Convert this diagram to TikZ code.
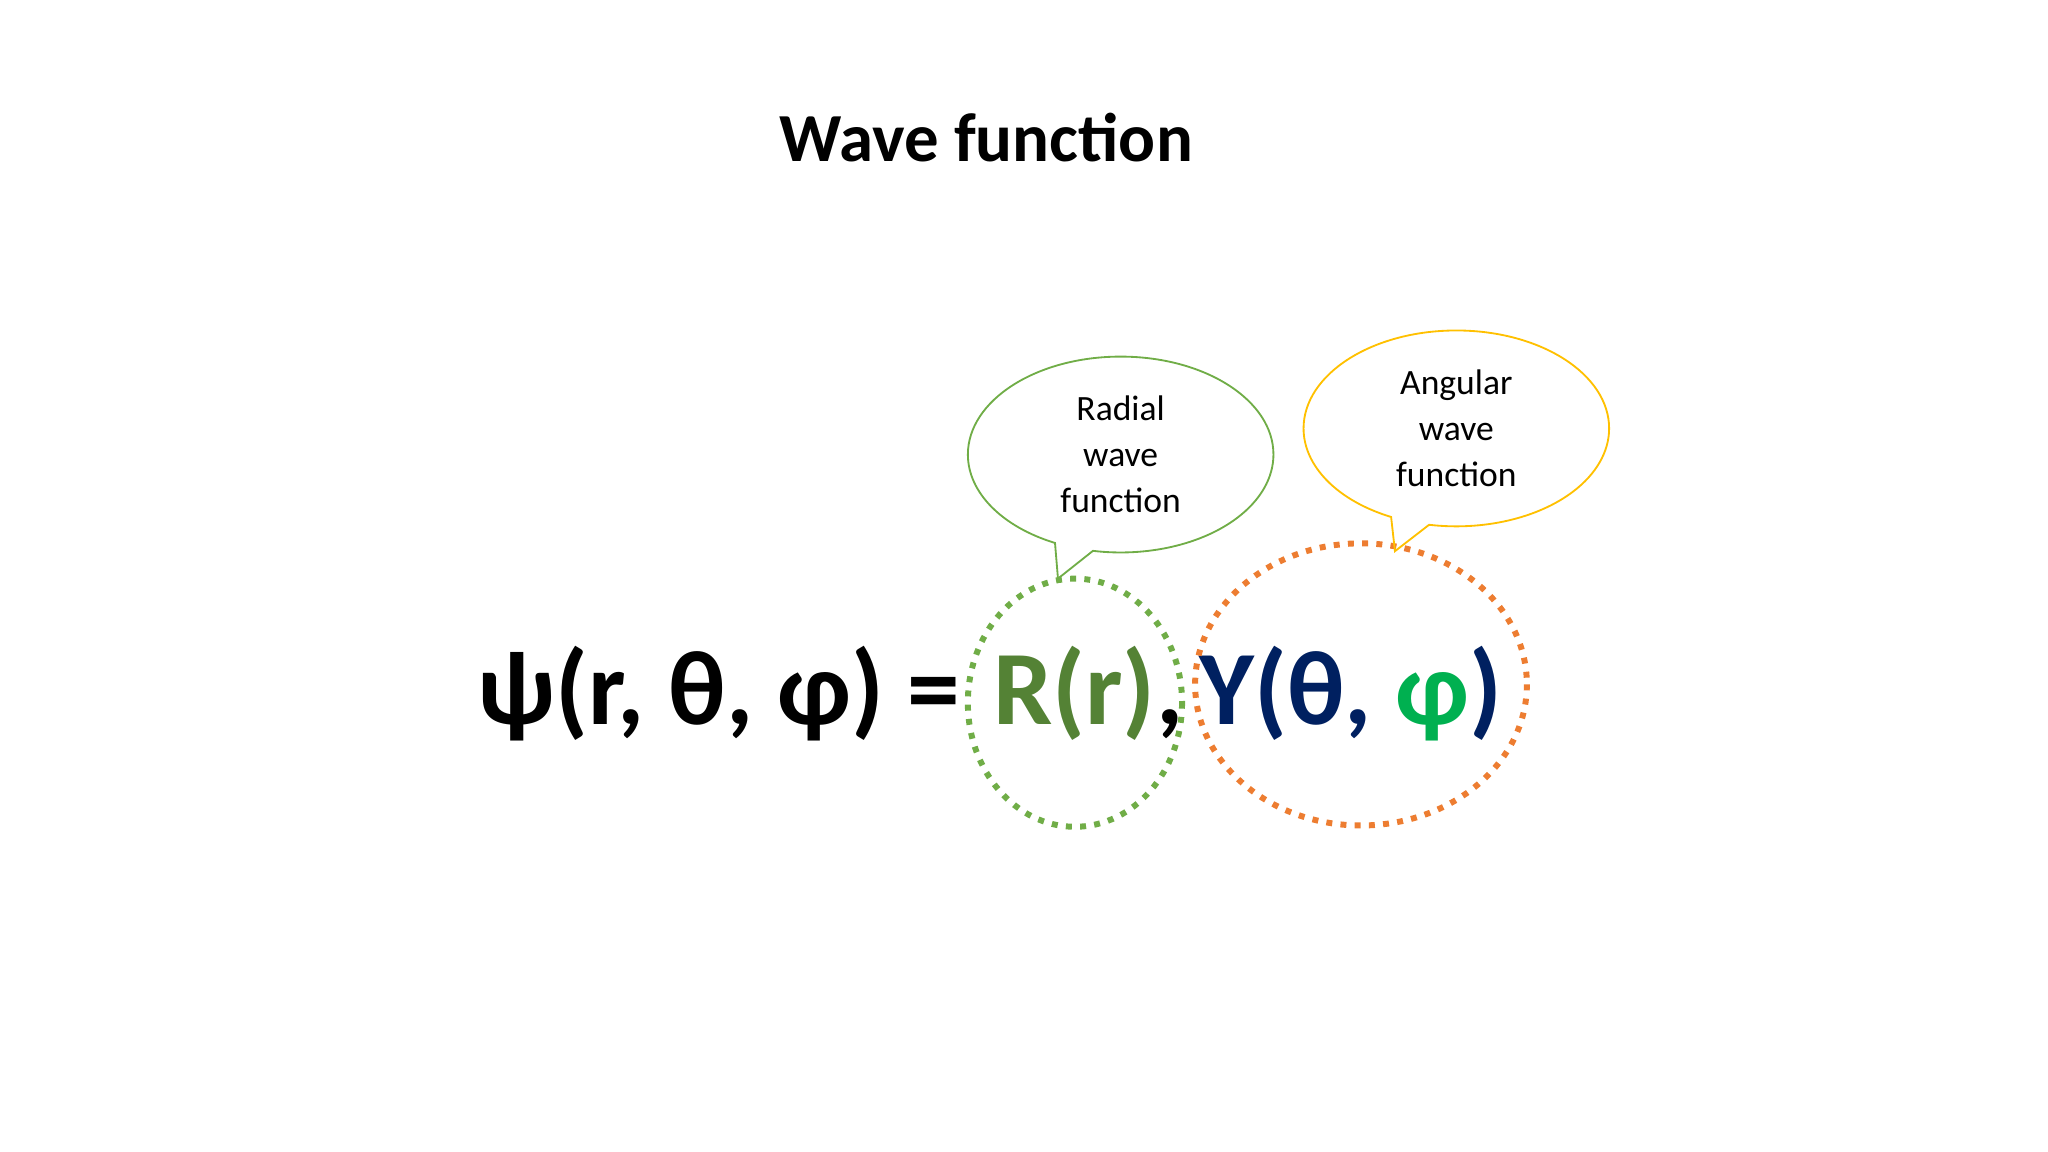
\documentclass[tikz,border=0pt]{standalone}
\usepackage{fontspec}
\setmainfont{Carlito}
\usetikzlibrary{shapes.geometric,shapes.callouts}
\definecolor{cgreen}{HTML}{70AD47}
\definecolor{rgreen}{HTML}{548235}
\definecolor{corange}{HTML}{ED7D31}
\definecolor{cyellow}{HTML}{FFC000}
\definecolor{cnavy}{HTML}{002060}
\definecolor{cphi}{HTML}{00B050}
\tikzset{
  eq/.style={font=\fontsize{46}{50}\selectfont\bfseries, inner sep=0pt, anchor=base west},
  ring/.style={ellipse, line width=2.6pt, dash pattern=on 2.6pt off 3.6pt},
  bubble/.style={ellipse callout, draw, line width=0.8pt, align=center, inner sep=0pt,
    font=\fontsize{15.5}{20}\selectfont, minimum width=4.68cm, minimum height=3cm}
}
\begin{document}
\begin{tikzpicture}[x=0.02cm,y=-0.02cm]
\useasboundingbox (0,0) rectangle (1568,882);
\node[font=\fontsize{30}{36}\selectfont\bfseries] (title) at (755,105) {Wave function};
\node[eq] (lhs) at (365,555) {ψ(r, θ, φ) =};
\node[eq, text=rgreen] (R) at (760,555) {R(r)};
\node[eq] (c) at (R.base east) {,};
\node[eq, text=cnavy] (Y) at (918,555) {Y(θ, \textcolor{cphi}{φ})};
\draw[ring, draw=cgreen] (823,538) ellipse [x radius=82, y radius=95];
\draw[ring, draw=corange] (1042,524) ellipse [x radius=127, y radius=108];
\node[bubble, draw=cgreen, callout absolute pointer={(810,443)}] (rad) at (858,348) {Radial\\wave\\function};
\node[bubble, draw=cyellow, callout absolute pointer={(1068,422)}] (ang) at (1115,328) {Angular\\wave\\function};
\end{tikzpicture}
\end{document}
